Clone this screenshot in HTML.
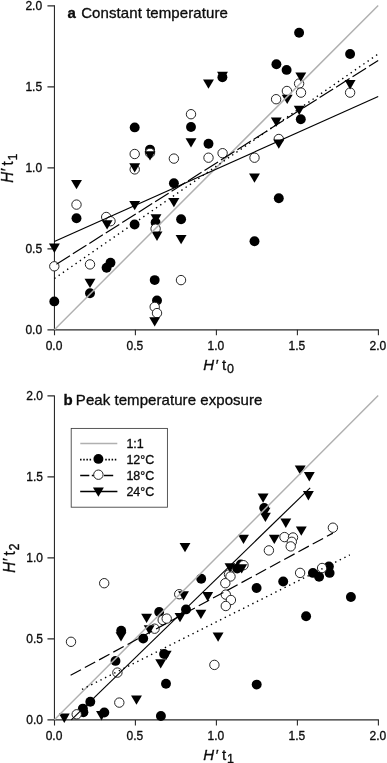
<!DOCTYPE html>
<html lang="en"><head><meta charset="utf-8"><title>Figure</title>
<style>
html,body{margin:0;padding:0;background:#fff}
svg{display:block}
text{font-family:"Liberation Sans",sans-serif;fill:#0c0c0c;stroke:#0c0c0c;stroke-width:0.32px;stroke-linejoin:round}
.tk{font-size:12px}
.lb{font-size:15px}
.tt{font-size:15px}
.lg{font-size:12.5px}
</style></head><body>
<svg width="387" height="763" viewBox="0 0 387 763">
<rect width="387" height="763" fill="#fff"/>
<g id="plot-a">
<path d="M54.45 5.350000000000023V329.85H378.95" fill="none" stroke="#2a2a2a" stroke-width="1.1"/>
<path d="M54.5 329.85v5.5M54.45 329.9h-7" stroke="#2a2a2a" stroke-width="1.1" fill="none"/>
<text x="54.0" y="350.2" text-anchor="middle" class="tk">0.0</text>
<text x="42.1" y="334.2" text-anchor="end" class="tk">0.0</text>
<path d="M135.4 329.85v5.5M54.45 248.9h-7" stroke="#2a2a2a" stroke-width="1.1" fill="none"/>
<text x="134.9" y="350.2" text-anchor="middle" class="tk">0.5</text>
<text x="42.1" y="253.2" text-anchor="end" class="tk">0.5</text>
<path d="M216.4 329.85v5.5M54.45 167.9h-7" stroke="#2a2a2a" stroke-width="1.1" fill="none"/>
<text x="215.9" y="350.2" text-anchor="middle" class="tk">1.0</text>
<text x="42.1" y="172.2" text-anchor="end" class="tk">1.0</text>
<path d="M297.4 329.85v5.5M54.45 86.9h-7" stroke="#2a2a2a" stroke-width="1.1" fill="none"/>
<text x="296.9" y="350.2" text-anchor="middle" class="tk">1.5</text>
<text x="42.1" y="91.2" text-anchor="end" class="tk">1.5</text>
<path d="M378.4 329.85v5.5M54.45 5.9h-7" stroke="#2a2a2a" stroke-width="1.1" fill="none"/>
<text x="377.9" y="350.2" text-anchor="middle" class="tk">2.0</text>
<text x="42.1" y="10.2" text-anchor="end" class="tk">2.0</text>
<text x="67.6" y="18.1" class="tt" font-weight="bold">a</text><text x="81.2" y="18.1" class="tt" textLength="146.6" lengthAdjust="spacing">Constant temperature</text>
<text x="203.2" y="369.6" class="lb"><tspan font-style="italic">H</tspan><tspan dx="1.6">′</tspan><tspan dx="-0.5"> t</tspan><tspan dy="3" dx="0.8" font-size="12.5">0</tspan></text>
<text transform="translate(12.5 182.8) rotate(-90) scale(1 1.06)" class="lb"><tspan font-style="italic">H</tspan><tspan dx="1.1">′</tspan><tspan dx="-1.5"> t</tspan><tspan dy="4.0" dx="0.8" font-size="12.5">1</tspan></text>
<circle cx="299.1" cy="32.7" r="4.95" fill="#000"/>
<circle cx="276.4" cy="64.2" r="4.95" fill="#000"/>
<circle cx="286.6" cy="69.9" r="4.95" fill="#000"/>
<circle cx="350.1" cy="54.0" r="4.95" fill="#000"/>
<circle cx="222.4" cy="77.3" r="4.95" fill="#000"/>
<circle cx="134.7" cy="127.4" r="4.95" fill="#000"/>
<circle cx="150.0" cy="149.6" r="4.95" fill="#000"/>
<circle cx="191.0" cy="127.0" r="4.95" fill="#000"/>
<circle cx="208.5" cy="143.7" r="4.95" fill="#000"/>
<circle cx="300.8" cy="119.3" r="4.95" fill="#000"/>
<circle cx="173.9" cy="183.3" r="4.95" fill="#000"/>
<circle cx="278.8" cy="198.3" r="4.95" fill="#000"/>
<circle cx="254.5" cy="241.2" r="4.95" fill="#000"/>
<circle cx="76.5" cy="218.3" r="4.95" fill="#000"/>
<circle cx="134.6" cy="224.5" r="4.95" fill="#000"/>
<circle cx="155.6" cy="222.5" r="4.95" fill="#000"/>
<circle cx="181.1" cy="219.2" r="4.95" fill="#000"/>
<circle cx="110.5" cy="262.7" r="4.95" fill="#000"/>
<circle cx="106.6" cy="267.8" r="4.95" fill="#000"/>
<circle cx="90.0" cy="293.2" r="4.95" fill="#000"/>
<circle cx="54.3" cy="301.4" r="4.95" fill="#000"/>
<circle cx="154.7" cy="280.1" r="4.95" fill="#000"/>
<circle cx="157.0" cy="300.5" r="4.95" fill="#000"/>
<circle cx="299.1" cy="83.6" r="4.7" fill="#fff" stroke="#1a1a1a" stroke-width="0.95"/>
<circle cx="286.9" cy="91" r="4.7" fill="#fff" stroke="#1a1a1a" stroke-width="0.95"/>
<circle cx="301.0" cy="92.6" r="4.7" fill="#fff" stroke="#1a1a1a" stroke-width="0.95"/>
<circle cx="276.1" cy="99.2" r="4.7" fill="#fff" stroke="#1a1a1a" stroke-width="0.95"/>
<circle cx="350.1" cy="92.6" r="4.7" fill="#fff" stroke="#1a1a1a" stroke-width="0.95"/>
<circle cx="134.7" cy="154.0" r="4.7" fill="#fff" stroke="#1a1a1a" stroke-width="0.95"/>
<circle cx="134.7" cy="169.4" r="4.7" fill="#fff" stroke="#1a1a1a" stroke-width="0.95"/>
<circle cx="150" cy="152.9" r="4.7" fill="#fff" stroke="#1a1a1a" stroke-width="0.95"/>
<circle cx="173.9" cy="158.6" r="4.7" fill="#fff" stroke="#1a1a1a" stroke-width="0.95"/>
<circle cx="191.0" cy="114.2" r="4.7" fill="#fff" stroke="#1a1a1a" stroke-width="0.95"/>
<circle cx="208.5" cy="157.7" r="4.7" fill="#fff" stroke="#1a1a1a" stroke-width="0.95"/>
<circle cx="222.6" cy="153.2" r="4.7" fill="#fff" stroke="#1a1a1a" stroke-width="0.95"/>
<circle cx="254.5" cy="157.7" r="4.7" fill="#fff" stroke="#1a1a1a" stroke-width="0.95"/>
<circle cx="278.8" cy="139" r="4.7" fill="#fff" stroke="#1a1a1a" stroke-width="0.95"/>
<circle cx="76.5" cy="204.6" r="4.7" fill="#fff" stroke="#1a1a1a" stroke-width="0.95"/>
<circle cx="54.3" cy="266.3" r="4.7" fill="#fff" stroke="#1a1a1a" stroke-width="0.95"/>
<circle cx="106.2" cy="217" r="4.7" fill="#fff" stroke="#1a1a1a" stroke-width="0.95"/>
<circle cx="110.5" cy="221.2" r="4.7" fill="#fff" stroke="#1a1a1a" stroke-width="0.95"/>
<circle cx="90.0" cy="264.4" r="4.7" fill="#fff" stroke="#1a1a1a" stroke-width="0.95"/>
<circle cx="155.6" cy="228.7" r="4.7" fill="#fff" stroke="#1a1a1a" stroke-width="0.95"/>
<circle cx="181" cy="280.1" r="4.7" fill="#fff" stroke="#1a1a1a" stroke-width="0.95"/>
<circle cx="154.7" cy="306.9" r="4.7" fill="#fff" stroke="#1a1a1a" stroke-width="0.95"/>
<circle cx="157.0" cy="313.1" r="4.7" fill="#fff" stroke="#1a1a1a" stroke-width="0.95"/>
<path d="M203.05 79.50H213.95L208.50 88.80Z" fill="#000"/>
<path d="M217.05 71.70H227.95L222.50 81.00Z" fill="#000"/>
<path d="M295.35 72.40H306.25L300.80 81.70Z" fill="#000"/>
<path d="M281.75 94.80H292.65L287.20 104.10Z" fill="#000"/>
<path d="M293.75 105.80H304.65L299.20 115.10Z" fill="#000"/>
<path d="M344.65 80.10H355.55L350.10 89.40Z" fill="#000"/>
<path d="M129.25 163.20H140.15L134.70 172.50Z" fill="#000"/>
<path d="M71.05 180.00H81.95L76.50 189.30Z" fill="#000"/>
<path d="M144.55 151.20H155.45L150.00 160.50Z" fill="#000"/>
<path d="M185.55 138.30H196.45L191.00 147.60Z" fill="#000"/>
<path d="M168.45 198.00H179.35L173.90 207.30Z" fill="#000"/>
<path d="M129.25 200.90H140.15L134.70 210.20Z" fill="#000"/>
<path d="M249.05 173.50H259.95L254.50 182.80Z" fill="#000"/>
<path d="M270.85 117.40H281.75L276.30 126.70Z" fill="#000"/>
<path d="M273.35 139.50H284.25L278.80 148.80Z" fill="#000"/>
<path d="M48.95 243.60H59.85L54.40 252.90Z" fill="#000"/>
<path d="M101.65 220.30H112.55L107.10 229.60Z" fill="#000"/>
<path d="M150.55 214.20H161.45L156.00 223.50Z" fill="#000"/>
<path d="M151.55 231.60H162.45L157.00 240.90Z" fill="#000"/>
<path d="M175.65 235.00H186.55L181.10 244.30Z" fill="#000"/>
<path d="M84.55 278.70H95.45L90.00 288.00Z" fill="#000"/>
<path d="M149.25 317.30H160.15L154.70 326.60Z" fill="#000"/>
<path d="M54.4 329.7L378.2 5.5" fill="none" stroke="#b0b0b0" stroke-width="1.45"/>
<path d="M54.4 278.5L378.2 54.0" fill="none" stroke="#000" stroke-width="1.4" stroke-dasharray="1.4 3.75"/>
<path d="M54.4 265.5L378.2 60.5" fill="none" stroke="#000" stroke-width="1.2" stroke-dasharray="16 3.47" stroke-dashoffset="17.07"/>
<path d="M54.4 241.6L378.2 96.5" fill="none" stroke="#000" stroke-width="1.15"/>
</g>
<g id="plot-b">
<path d="M54.45 395.4V719.9H378.95" fill="none" stroke="#2a2a2a" stroke-width="1.1"/>
<path d="M54.5 719.9v5.5M54.45 719.9h-7" stroke="#2a2a2a" stroke-width="1.1" fill="none"/>
<text x="54.0" y="740.2" text-anchor="middle" class="tk">0.0</text>
<text x="43.0" y="724.2" text-anchor="end" class="tk">0.0</text>
<path d="M135.4 719.9v5.5M54.45 638.9h-7" stroke="#2a2a2a" stroke-width="1.1" fill="none"/>
<text x="134.9" y="740.2" text-anchor="middle" class="tk">0.5</text>
<text x="43.0" y="643.2" text-anchor="end" class="tk">0.5</text>
<path d="M216.4 719.9v5.5M54.45 557.9h-7" stroke="#2a2a2a" stroke-width="1.1" fill="none"/>
<text x="215.9" y="740.2" text-anchor="middle" class="tk">1.0</text>
<text x="43.0" y="562.2" text-anchor="end" class="tk">1.0</text>
<path d="M297.4 719.9v5.5M54.45 476.9h-7" stroke="#2a2a2a" stroke-width="1.1" fill="none"/>
<text x="296.9" y="740.2" text-anchor="middle" class="tk">1.5</text>
<text x="43.0" y="481.2" text-anchor="end" class="tk">1.5</text>
<path d="M378.4 719.9v5.5M54.45 395.9h-7" stroke="#2a2a2a" stroke-width="1.1" fill="none"/>
<text x="377.9" y="740.2" text-anchor="middle" class="tk">2.0</text>
<text x="43.0" y="400.2" text-anchor="end" class="tk">2.0</text>
<text x="63.4" y="405.2" class="tt" font-weight="bold">b</text><text x="75.8" y="405.2" class="tt" textLength="186.6" lengthAdjust="spacing">Peak temperature exposure</text>
<text x="203.2" y="759.7" class="lb"><tspan font-style="italic">H</tspan><tspan dx="1.6">′</tspan><tspan dx="-0.5"> t</tspan><tspan dy="3" dx="0.8" font-size="12.5">1</tspan></text>
<text transform="translate(14.6 572.8) rotate(-90) scale(1 1.12)" class="lb"><tspan font-style="italic">H</tspan><tspan dx="1.1">′</tspan><tspan dx="-1.5"> t</tspan><tspan dy="4.0" dx="0.8" font-size="12.5">2</tspan></text>
<rect x="71.2" y="428.4" width="96.2" height="78.8" fill="#fff" stroke="#3c3c3c" stroke-width="0.85"/>
<path d="M80.3 443.5L117.3 443.5" fill="none" stroke="#b0b0b0" stroke-width="1.45"/>
<path d="M80.05 459.6H92M105.25 459.6H117" fill="none" stroke="#000" stroke-width="1.6" stroke-dasharray="1.5 1.68"/>
<path d="M80.2 475.5H89.3M91.8 475.5H94M104 475.5H113.2" fill="none" stroke="#000" stroke-width="1.5"/>
<path d="M80.2 491.5H117.4" fill="none" stroke="#000" stroke-width="1.3"/>
<circle cx="98.4" cy="458.9" r="4.95" fill="#000"/>
<circle cx="98.4" cy="474.7" r="4.7" fill="#fff" stroke="#1a1a1a" stroke-width="0.95"/>
<path d="M92.95 487.50H103.85L98.40 496.80Z" fill="#000"/>
<text x="126.4" y="447.8" class="lg">1:1</text>
<text x="126.4" y="463.9" class="lg">12°C</text>
<text x="126.4" y="479.8" class="lg">18°C</text>
<text x="126.4" y="495.8" class="lg">24°C</text>
<circle cx="82.9" cy="708.6" r="4.95" fill="#000"/>
<circle cx="83.4" cy="712.2" r="4.95" fill="#000"/>
<circle cx="90.3" cy="701.8" r="4.95" fill="#000"/>
<circle cx="104.3" cy="712.5" r="4.95" fill="#000"/>
<circle cx="115.5" cy="660.9" r="4.95" fill="#000"/>
<circle cx="121.2" cy="630.8" r="4.95" fill="#000"/>
<circle cx="143.2" cy="638.6" r="4.95" fill="#000"/>
<circle cx="159.2" cy="611.9" r="4.95" fill="#000"/>
<circle cx="186" cy="609.4" r="4.95" fill="#000"/>
<circle cx="164.1" cy="654" r="4.95" fill="#000"/>
<circle cx="166" cy="683.7" r="4.95" fill="#000"/>
<circle cx="160.9" cy="716" r="4.95" fill="#000"/>
<circle cx="201.2" cy="578.7" r="4.95" fill="#000"/>
<circle cx="237.2" cy="568.6" r="4.95" fill="#000"/>
<circle cx="240.8" cy="564.4" r="4.95" fill="#000"/>
<circle cx="264.2" cy="507.9" r="4.95" fill="#000"/>
<circle cx="256.6" cy="588" r="4.95" fill="#000"/>
<circle cx="283.2" cy="581.5" r="4.95" fill="#000"/>
<circle cx="312.9" cy="572.9" r="4.95" fill="#000"/>
<circle cx="319.1" cy="576.7" r="4.95" fill="#000"/>
<circle cx="328.9" cy="566.5" r="4.95" fill="#000"/>
<circle cx="329.6" cy="572.9" r="4.95" fill="#000"/>
<circle cx="350.9" cy="597" r="4.95" fill="#000"/>
<circle cx="306.1" cy="616.2" r="4.95" fill="#000"/>
<circle cx="256.7" cy="684.6" r="4.95" fill="#000"/>
<circle cx="104.2" cy="583.2" r="4.7" fill="#fff" stroke="#1a1a1a" stroke-width="0.95"/>
<circle cx="71.0" cy="641.8" r="4.7" fill="#fff" stroke="#1a1a1a" stroke-width="0.95"/>
<circle cx="76.7" cy="714.3" r="4.7" fill="#fff" stroke="#1a1a1a" stroke-width="0.95"/>
<circle cx="117.4" cy="672.6" r="4.7" fill="#fff" stroke="#1a1a1a" stroke-width="0.95"/>
<circle cx="119.3" cy="702.6" r="4.7" fill="#fff" stroke="#1a1a1a" stroke-width="0.95"/>
<circle cx="162.7" cy="620.0" r="4.7" fill="#fff" stroke="#1a1a1a" stroke-width="0.95"/>
<circle cx="166.7" cy="618.6" r="4.7" fill="#fff" stroke="#1a1a1a" stroke-width="0.95"/>
<circle cx="154.6" cy="628.7" r="4.7" fill="#fff" stroke="#1a1a1a" stroke-width="0.95"/>
<circle cx="179.2" cy="594.2" r="4.7" fill="#fff" stroke="#1a1a1a" stroke-width="0.95"/>
<circle cx="214.4" cy="664.9" r="4.7" fill="#fff" stroke="#1a1a1a" stroke-width="0.95"/>
<circle cx="225.8" cy="594.6" r="4.7" fill="#fff" stroke="#1a1a1a" stroke-width="0.95"/>
<circle cx="230.9" cy="600" r="4.7" fill="#fff" stroke="#1a1a1a" stroke-width="0.95"/>
<circle cx="225.8" cy="606" r="4.7" fill="#fff" stroke="#1a1a1a" stroke-width="0.95"/>
<circle cx="229" cy="574.5" r="4.7" fill="#fff" stroke="#1a1a1a" stroke-width="0.95"/>
<circle cx="230.5" cy="576.5" r="4.7" fill="#fff" stroke="#1a1a1a" stroke-width="0.95"/>
<circle cx="225.3" cy="583.2" r="4.7" fill="#fff" stroke="#1a1a1a" stroke-width="0.95"/>
<circle cx="243.5" cy="565.2" r="4.7" fill="#fff" stroke="#1a1a1a" stroke-width="0.95"/>
<circle cx="268.9" cy="550.4" r="4.7" fill="#fff" stroke="#1a1a1a" stroke-width="0.95"/>
<circle cx="284.5" cy="537.1" r="4.7" fill="#fff" stroke="#1a1a1a" stroke-width="0.95"/>
<circle cx="293" cy="537.5" r="4.7" fill="#fff" stroke="#1a1a1a" stroke-width="0.95"/>
<circle cx="291.8" cy="541.8" r="4.7" fill="#fff" stroke="#1a1a1a" stroke-width="0.95"/>
<circle cx="290.7" cy="546.4" r="4.7" fill="#fff" stroke="#1a1a1a" stroke-width="0.95"/>
<circle cx="300.1" cy="572.9" r="4.7" fill="#fff" stroke="#1a1a1a" stroke-width="0.95"/>
<circle cx="322.1" cy="568" r="4.7" fill="#fff" stroke="#1a1a1a" stroke-width="0.95"/>
<circle cx="332.9" cy="527.7" r="4.7" fill="#fff" stroke="#1a1a1a" stroke-width="0.95"/>
<path d="M58.85 713.60H69.75L64.30 722.90Z" fill="#000"/>
<path d="M96.05 711.10H106.95L101.50 720.40Z" fill="#000"/>
<path d="M131.05 695.50H141.95L136.50 704.80Z" fill="#000"/>
<path d="M115.55 632.20H126.45L121.00 641.50Z" fill="#000"/>
<path d="M141.15 613.70H152.05L146.60 623.00Z" fill="#000"/>
<path d="M143.75 625.20H154.65L149.20 634.50Z" fill="#000"/>
<path d="M174.55 613.00H185.45L180.00 622.30Z" fill="#000"/>
<path d="M178.05 591.20H188.95L183.50 600.50Z" fill="#000"/>
<path d="M160.75 650.70H171.65L166.20 660.00Z" fill="#000"/>
<path d="M155.25 659.20H166.15L160.70 668.50Z" fill="#000"/>
<path d="M179.55 542.90H190.45L185.00 552.20Z" fill="#000"/>
<path d="M202.25 592.10H213.15L207.70 601.40Z" fill="#000"/>
<path d="M195.45 609.70H206.35L200.90 619.00Z" fill="#000"/>
<path d="M212.65 632.50H223.55L218.10 641.80Z" fill="#000"/>
<path d="M224.55 563.30H235.45L230.00 572.60Z" fill="#000"/>
<path d="M236.25 564.20H247.15L241.70 573.50Z" fill="#000"/>
<path d="M238.05 534.80H248.95L243.50 544.10Z" fill="#000"/>
<path d="M257.65 493.50H268.55L263.10 502.80Z" fill="#000"/>
<path d="M259.55 507.70H270.45L265.00 517.00Z" fill="#000"/>
<path d="M259.95 512.70H270.85L265.40 522.00Z" fill="#000"/>
<path d="M268.85 534.80H279.75L274.30 544.10Z" fill="#000"/>
<path d="M280.35 518.60H291.25L285.80 527.90Z" fill="#000"/>
<path d="M295.85 526.40H306.75L301.30 535.70Z" fill="#000"/>
<path d="M302.95 491.10H313.85L308.40 500.40Z" fill="#000"/>
<path d="M294.75 465.50H305.65L300.20 474.80Z" fill="#000"/>
<path d="M303.85 472.10H314.75L309.30 481.40Z" fill="#000"/>
<path d="M54.4 719.8L378.2 395.6" fill="none" stroke="#b0b0b0" stroke-width="1.45"/>
<path d="M82.0 689.4L349.8 554.9" fill="none" stroke="#000" stroke-width="1.4" stroke-dasharray="1.4 3.75"/>
<path d="M70.6 675.3L332.9 533.1" fill="none" stroke="#000" stroke-width="1.2" stroke-dasharray="11.8 4.4"/>
<path d="M71.3 719.8L310.2 487.8" fill="none" stroke="#000" stroke-width="1.15"/>
</g>
</svg></body></html>
